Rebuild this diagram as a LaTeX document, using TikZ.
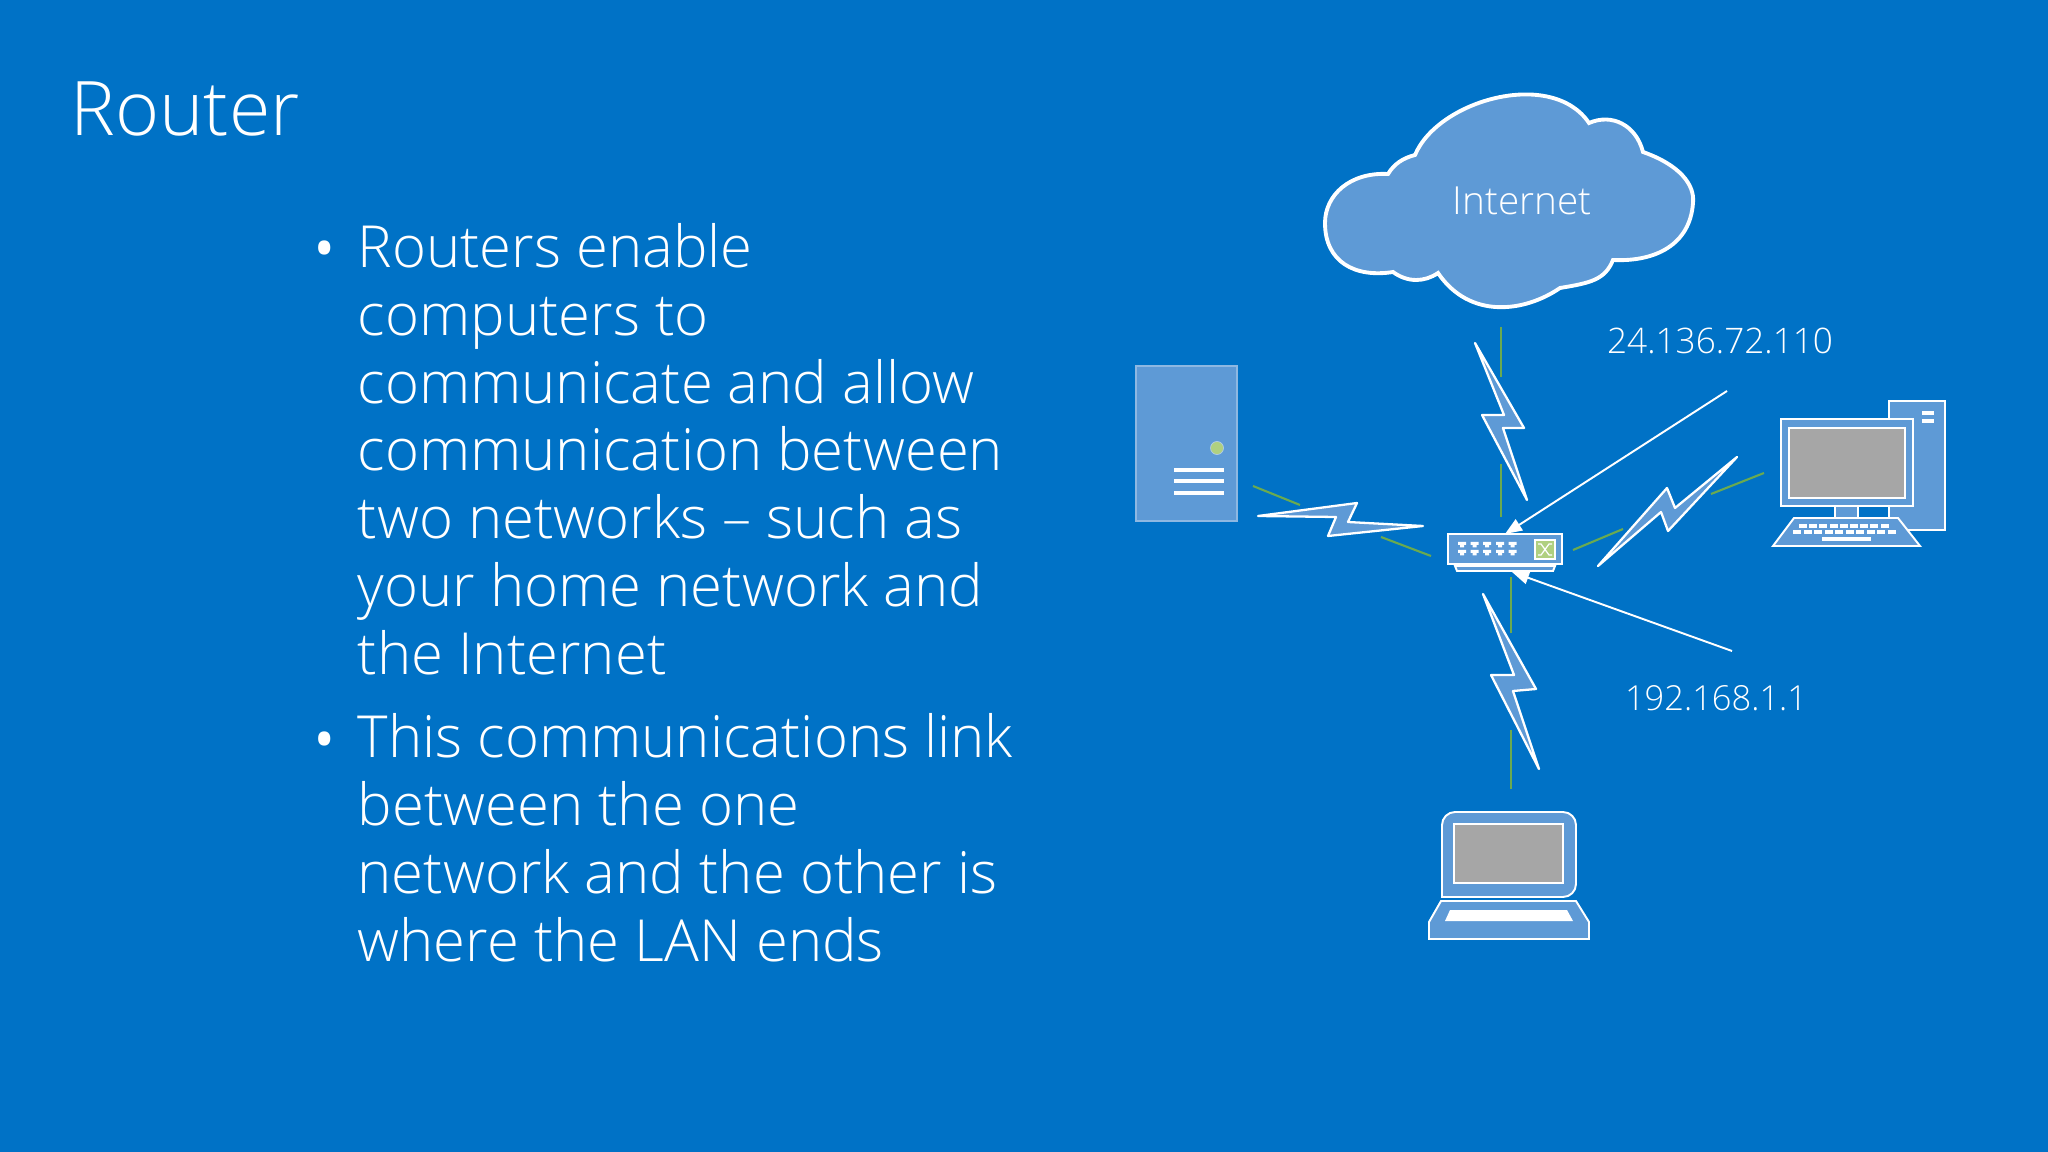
\documentclass[tikz,border=0pt]{standalone}
\usepackage{fontspec}
\setmainfont{Open Sans}[UprightFont=* Light]
\usetikzlibrary{arrows.meta,calc}
\definecolor{slideblue}{HTML}{0072C6}
\definecolor{devblue}{HTML}{5E9AD6}
\definecolor{linkgreen}{HTML}{6AAA50}
\definecolor{ledgreen}{HTML}{B0D080}
\definecolor{screengray}{HTML}{A6A6A6}

\begin{document}
\begin{tikzpicture}[
    x=0.01cm, y=-0.01cm,
    device/.style={draw=white, line width=0.55pt, fill=devblue, inner sep=0pt, outer sep=0pt},
    screen/.style={draw=white, line width=0.55pt, fill=screengray, inner sep=0pt, outer sep=0pt},
    bolt/.style={draw=white, line width=0.65pt, fill=devblue, line join=round},
    link/.style={draw=linkgreen, line width=0.6pt},
    addr/.style={-{Triangle[length=0.17cm,width=0.13cm]}, draw=white, line width=0.55pt},
    bar/.style={fill=white, inner sep=0pt, outer sep=0pt},
    bodytext/.style={anchor=base west, align=left, text=white, inner sep=0pt, font=\fontsize{16.5}{19.3}\selectfont},
    bulletmark/.style={anchor=base west, text=white, inner sep=0pt, font=\fontsize{23}{26}\selectfont},
    iplabel/.style={text=white, inner sep=0pt, font=\fontsize{10}{12}\selectfont}
]

\fill[slideblue] (0,0) rectangle (2048,1152);
\useasboundingbox (0,0) rectangle (2048,1152);

\node[anchor=base west, text=white, inner sep=0pt, font=\fontsize{21.4}{26}\selectfont] (title) at (70,136) {Router};

\node[bulletmark] (bulletone) at (309,278) {•};
\node[bodytext] (firstitem) at (357,674.5) {Routers enable\\computers to\\communicate and allow\\communication between\\two networks – such as\\your home network and\\the Internet};
\node[bulletmark] (bullettwo) at (309,768) {•};
\node[bodytext] (seconditem) at (357,961.5) {This communications link\\between the one\\network and the other is\\where the LAN ends};

\draw[white, line width=1.1pt, fill=devblue] (1388,174) .. controls (1394,164) and (1403,158) .. (1415,155)
    .. controls (1438,100) and (1552,68) .. (1589,123)
    .. controls (1612,113) and (1636,125) .. (1643,152)
    .. controls (1680,165) and (1695,185) .. (1693,203)
    .. controls (1690,245) and (1655,262) .. (1613,260)
    .. controls (1605,280) and (1590,283) .. (1560,288)
    .. controls (1525,312) and (1470,320) .. (1438,273)
    .. controls (1425,282) and (1408,283) .. (1393,272)
    .. controls (1355,278) and (1325,262) .. (1325,223)
    .. controls (1325,195) and (1350,172) .. (1388,174) -- cycle;
\node[iplabel, font=\fontsize{11}{13}\selectfont] (internet) at (1522,201) {Internet};
\node[iplabel] (wanip) at (1720,341) {24.136.72.110};
\node[iplabel, font=\fontsize{9.8}{12}\selectfont] (lanip) at (1716,698) {192.168.1.1};

\node[draw=devblue!70!white, line width=0.4pt, fill=devblue, inner sep=0pt, outer sep=0pt, minimum width=1.01cm, minimum height=1.55cm] (server) at (1186.5,443.5) {};
\node[circle, draw=devblue!50!white, line width=0.2pt, fill=ledgreen, inner sep=0pt, minimum size=0.13cm] (serverled) at (1217,448) {};
\foreach \y/\barname in {470/a,481/b,493/c}
    \node[bar, minimum width=0.5cm, minimum height=0.04cm] (serverbar\barname) at (1199,\y) {};

\node[device, minimum width=1.14cm, minimum height=0.3cm] (router) at (1505,549) {};
\draw[device] (1455,566) -- (1555,566) -- (1553,571) -- (1457,571) -- cycle;
\foreach \x in {1462,1474.5,1487,1500,1512.5}
    \foreach \y in {545,553}
        \fill[white] (\x-4,\y-3) -- (\x+4,\y-3) -- (\x+4,\y) -- (\x+2,\y) -- (\x+2,\y+2.5) -- (\x-2,\y+2.5) -- (\x-2,\y) -- (\x-4,\y) -- cycle;
\node[draw=white, line width=0.55pt, fill=ledgreen, inner sep=0pt, minimum width=0.2cm, minimum height=0.19cm] (routericon) at (1545,549.5) {};
\draw[white, line width=0.35pt] (1538,544) -- (1541,544) -- (1549,555) -- (1552,555) (1538,555) -- (1541,555) -- (1549,544) -- (1552,544);

\node[device, minimum width=0.56cm, minimum height=1.29cm] (tower) at (1917,465.5) {};
\node[bar, minimum width=0.12cm, minimum height=0.04cm] (towerbara) at (1928,413) {};
\node[bar, minimum width=0.12cm, minimum height=0.04cm] (towerbarb) at (1928,421) {};
\node[device, minimum width=0.23cm, minimum height=0.14cm] (neck) at (1846.5,512) {};
\node[device, minimum width=1.32cm, minimum height=0.87cm] (monitor) at (1847,462.5) {};
\node[screen, minimum width=1.16cm, minimum height=0.7cm] (pcscreen) at (1847,463) {};
\draw[device] (1794,518) -- (1898,518) -- (1920,546) -- (1773,546) -- cycle;
\foreach \n in {0,...,8}
    \fill[white] ($(1799,524)+(10.2*\n,0)$) rectangle ++(8,4.5);
\foreach \n in {0,...,9}
    \fill[white] ($(1793,530)+(10.5*\n,0)$) rectangle ++(8,4.5);
\node[bar, minimum width=0.49cm, minimum height=0.04cm] (spacebar) at (1846.5,539) {};

\draw[device, rounded corners=0.13cm] (1442,897) -- (1442,812) -- (1576,812) -- (1576,897) [sharp corners] -- cycle;
\node[screen, minimum width=1.09cm, minimum height=0.59cm] (laptopscreen) at (1508.5,853.5) {};
\draw[device] (1441,901) -- (1576,901) -- (1589,922) -- (1589,939) -- (1429,939) -- (1429,922) -- cycle;
\fill[white] (1450,910) -- (1567,910) -- (1573,921) -- (1445,921) -- cycle;

\coordinate (topa) at (1501,327);
\coordinate (topb) at (1501,377);
\coordinate (topc) at (1501,464);
\coordinate (topd) at (1501,517);
\draw[link] (topa) -- (topb);
\draw[link] (topc) -- (topd);
\coordinate (lefta) at (1253,486);
\coordinate (leftb) at (1300,505);
\coordinate (leftc) at (1381,537);
\coordinate (leftd) at (1431,556);
\draw[link] (lefta) -- (leftb);
\draw[link] (leftc) -- (leftd);
\coordinate (righta) at (1573,550);
\coordinate (rightb) at (1623,529);
\coordinate (rightc) at (1711,494);
\coordinate (rightd) at (1764,473);
\draw[link] (righta) -- (rightb);
\draw[link] (rightc) -- (rightd);
\coordinate (lowa) at (1511,577);
\coordinate (lowb) at (1511,633);
\coordinate (lowc) at (1511,730);
\coordinate (lowd) at (1511,789);
\draw[link] (lowa) -- (lowb);
\draw[link] (lowc) -- (lowd);

\draw[bolt] (1475,343) -- (1524,428) -- (1503,428) -- (1527,500) -- (1482,415) -- (1504,415) -- cycle;
\draw[bolt] (1258,516) -- (1357,503) -- (1348,522) -- (1423,526) -- (1328,536) -- (1336,517) -- cycle;
\draw[bolt] (1598,566) -- (1661,512) -- (1668,531) -- (1737,457) -- (1675,508) -- (1667,488) -- cycle;
\draw[bolt] (1483,594) -- (1536,689) -- (1513,691) -- (1539,769) -- (1491,675) -- (1514,675) -- cycle;

\coordinate (wanfrom) at (1727,391);
\coordinate (lanfrom) at (1732,651);
\coordinate (routerlow) at (1512,572);
\draw[addr] (wanfrom) -- (router.north);
\draw[addr] (lanfrom) -- (routerlow);

\end{tikzpicture}
\end{document}
